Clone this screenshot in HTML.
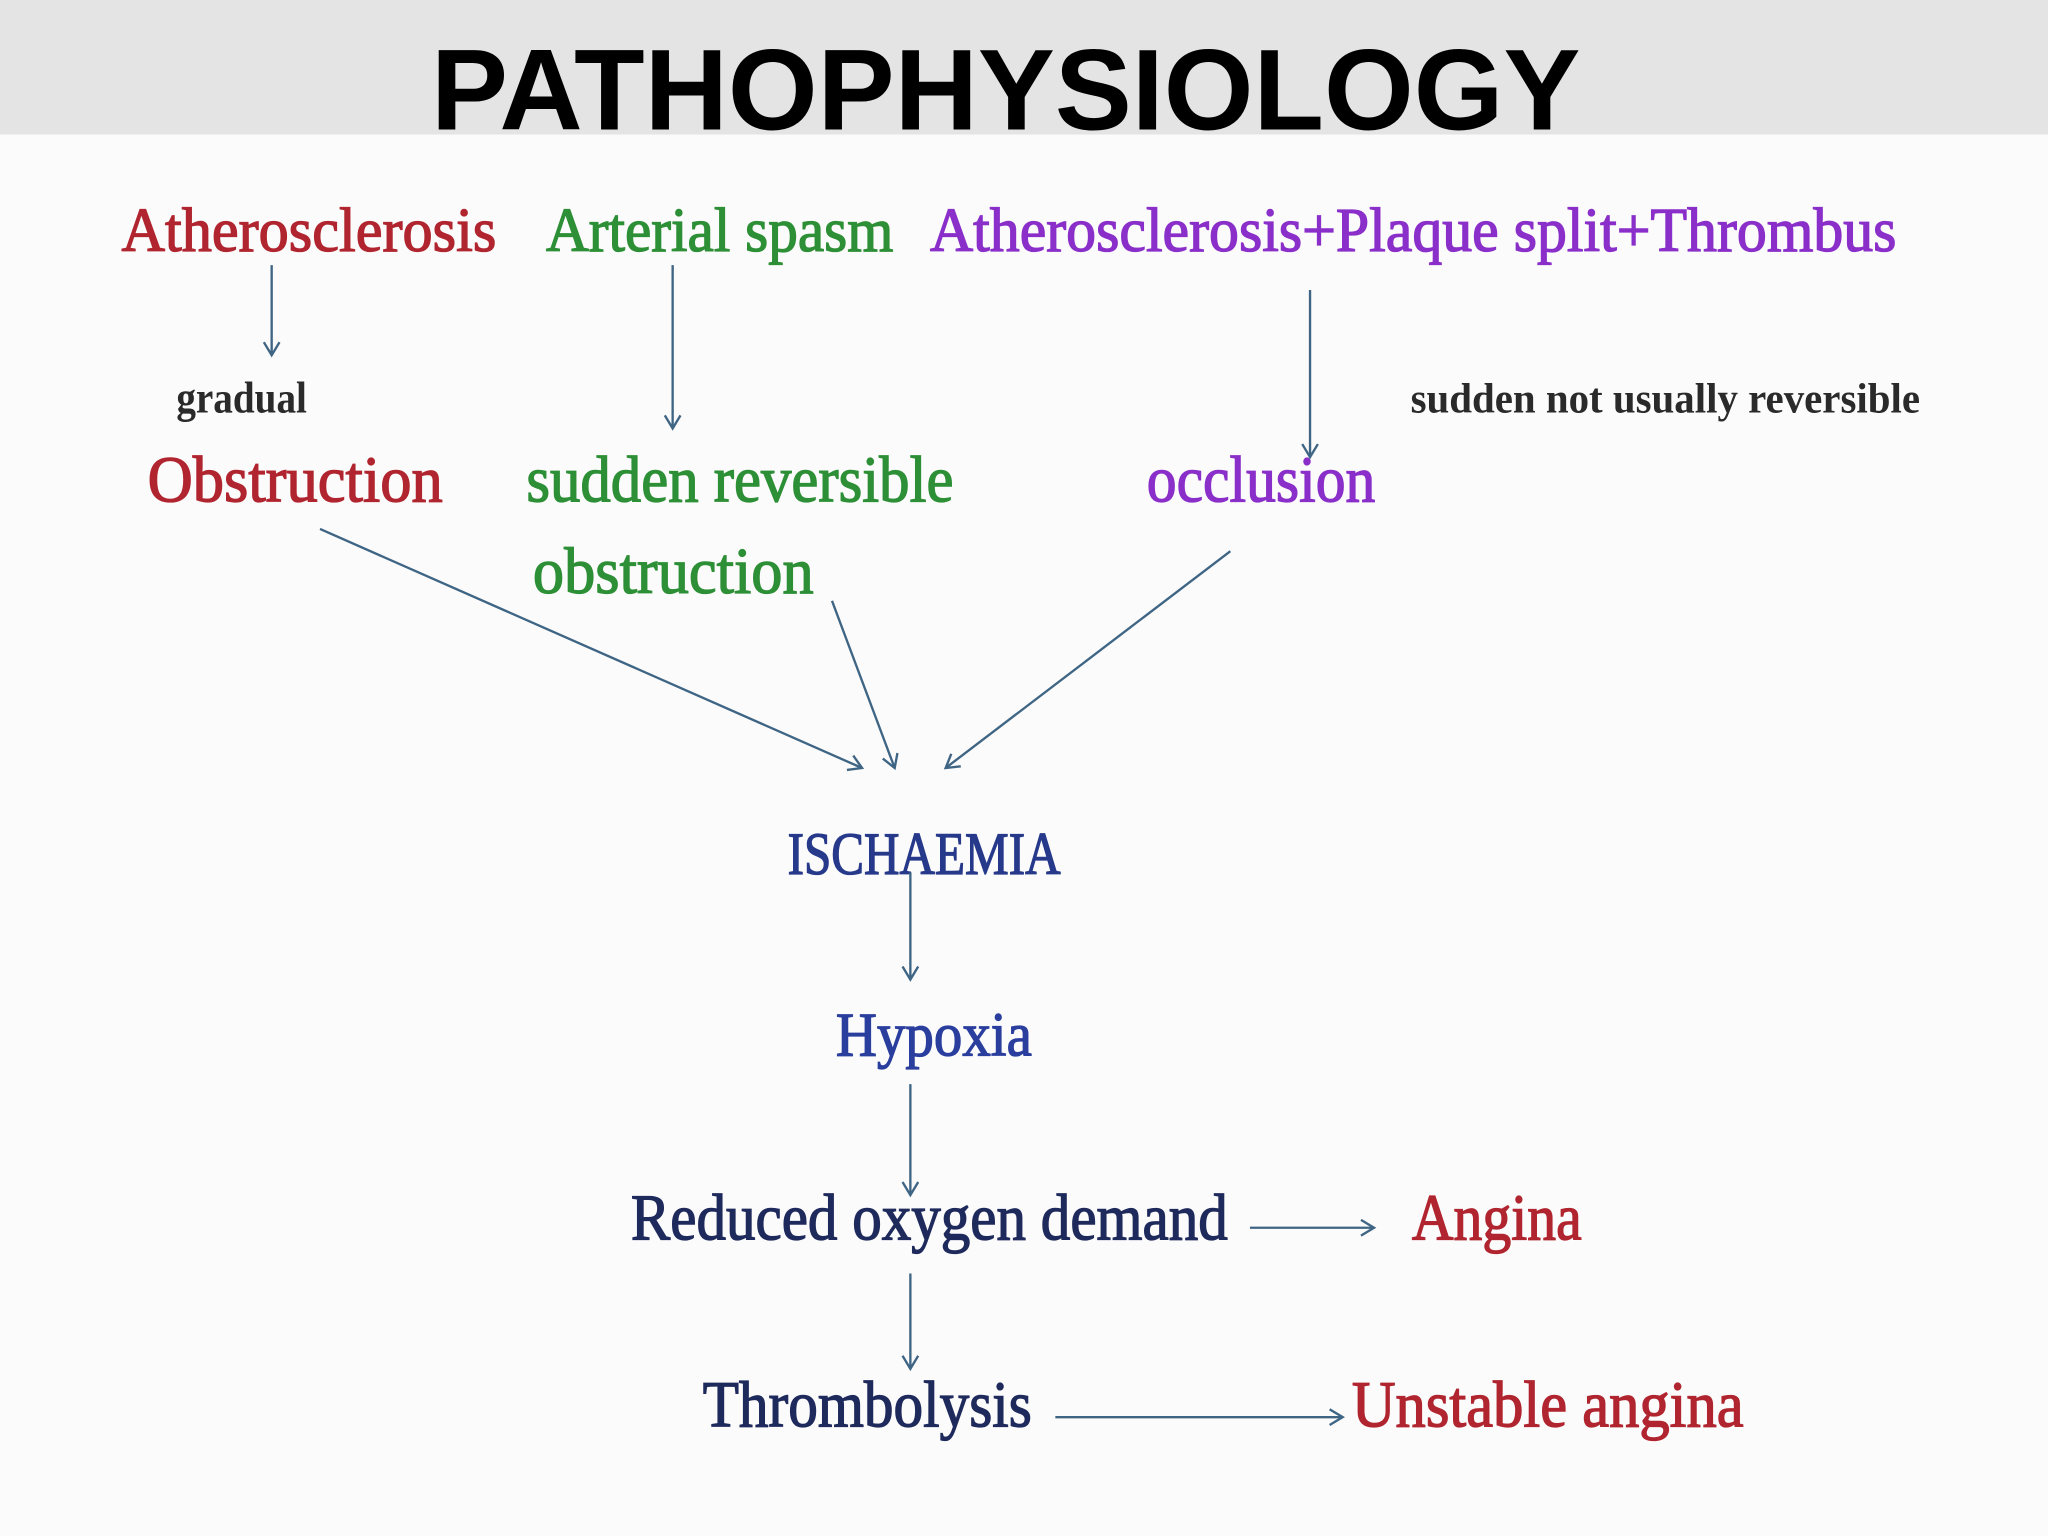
<!DOCTYPE html>
<html><head><meta charset="utf-8"><style>
html,body{margin:0;padding:0;width:2048px;height:1536px;overflow:hidden;background:#fbfbfb;}
svg{display:block}
</style></head><body>
<svg width="2048" height="1536" viewBox="0 0 1568 1176" xmlns="http://www.w3.org/2000/svg">
<defs>
<marker id="a" markerWidth="14" markerHeight="14" refX="12" refY="7" orient="auto" markerUnits="userSpaceOnUse">
<polyline points="2,1 12,7 2,13" fill="none" stroke="#3f6585" stroke-width="1.8"/>
</marker>
</defs>
<rect x="0" y="0" width="1568" height="103" fill="#e4e4e4"/>
<text x="330" y="99" textLength="880" lengthAdjust="spacingAndGlyphs" font-family="Liberation Sans, sans-serif" font-weight="bold" font-size="88" fill="#000">PATHOPHYSIOLOGY</text>
<g font-family="Liberation Serif, serif" stroke-width="1">
<text x="93" y="192" textLength="287" lengthAdjust="spacingAndGlyphs" font-size="48" fill="#b0252f" stroke="#b0252f">Atherosclerosis</text>
<text x="418" y="192" textLength="266" lengthAdjust="spacingAndGlyphs" font-size="48" fill="#2d8f36" stroke="#2d8f36">Arterial spasm</text>
<text x="712" y="192" textLength="740" lengthAdjust="spacingAndGlyphs" font-size="48" fill="#8a2fc9" stroke="#8a2fc9">Atherosclerosis+Plaque split+Thrombus</text>
<text x="135" y="316" textLength="100" lengthAdjust="spacingAndGlyphs" font-size="34" font-weight="bold" fill="#2a2a2a">gradual</text>
<text x="1080" y="316" textLength="390" lengthAdjust="spacingAndGlyphs" font-size="32" font-weight="bold" fill="#2a2a2a">sudden not usually reversible</text>
<text x="113" y="384" textLength="226" lengthAdjust="spacingAndGlyphs" font-size="50" fill="#b0252f" stroke="#b0252f">Obstruction</text>
<text x="403" y="384" textLength="327" lengthAdjust="spacingAndGlyphs" font-size="50" fill="#2d8f36" stroke="#2d8f36">sudden reversible</text>
<text x="408" y="454" textLength="215" lengthAdjust="spacingAndGlyphs" font-size="50" fill="#2d8f36" stroke="#2d8f36">obstruction</text>
<text x="878" y="384" textLength="175" lengthAdjust="spacingAndGlyphs" font-size="50" fill="#8a2fc9" stroke="#8a2fc9">occlusion</text>
<text x="603" y="669" textLength="209" lengthAdjust="spacingAndGlyphs" font-size="46" fill="#26398a" stroke="#26398a">ISCHAEMIA</text>
<text x="640" y="808" textLength="150" lengthAdjust="spacingAndGlyphs" font-size="48" fill="#2a3e9e" stroke="#2a3e9e">Hypoxia</text>
<text x="483" y="949" textLength="457" lengthAdjust="spacingAndGlyphs" font-size="50" fill="#1f2a5c" stroke="#1f2a5c">Reduced oxygen demand</text>
<text x="1081" y="949" textLength="130" lengthAdjust="spacingAndGlyphs" font-size="50" fill="#b0252f" stroke="#b0252f">Angina</text>
<text x="538" y="1092" textLength="252" lengthAdjust="spacingAndGlyphs" font-size="50" fill="#1f2a5c" stroke="#1f2a5c">Thrombolysis</text>
<text x="1035" y="1092" textLength="300" lengthAdjust="spacingAndGlyphs" font-size="50" fill="#b0252f" stroke="#b0252f">Unstable angina</text>
</g>
<g stroke="#3f6585" stroke-width="1.8" fill="none" marker-end="url(#a)">
<line x1="208" y1="203" x2="208" y2="272"/>
<line x1="515" y1="203" x2="515" y2="328"/>
<line x1="1003" y1="222" x2="1003" y2="350"/>
<line x1="245" y1="405" x2="660" y2="588"/>
<line x1="637" y1="460" x2="685" y2="588"/>
<line x1="942" y1="422" x2="724" y2="588"/>
<line x1="697" y1="668" x2="697" y2="750"/>
<line x1="697" y1="830" x2="697" y2="915"/>
<line x1="697" y1="975" x2="697" y2="1048"/>
<line x1="957" y1="940" x2="1052" y2="940"/>
<line x1="808" y1="1085" x2="1028" y2="1085"/>
</g>
</svg>
</body></html>
